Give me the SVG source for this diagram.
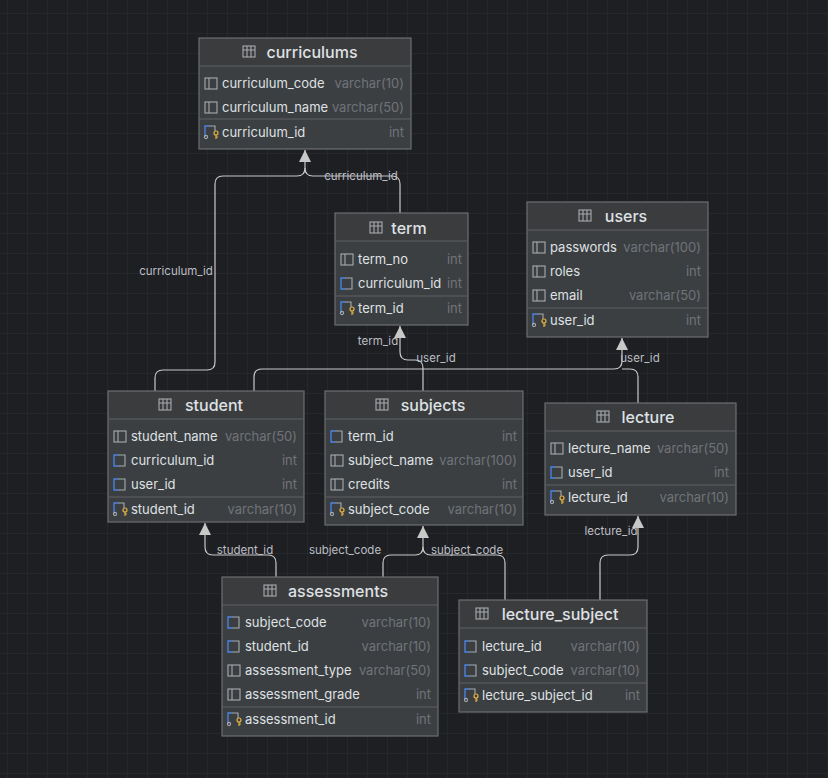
<svg xmlns="http://www.w3.org/2000/svg" width="828" height="778" viewBox="0 0 828 778">
<style>
.t{fill:#3c3f41;stroke:#6b6d70;stroke-width:1.2}
.h{fill:#3b3c3e}
.sep{stroke:#5e6064;stroke-width:1}
.title{font:500 16px Inter,"Noto Sans",sans-serif;fill:#dfe1e5;text-anchor:middle}
.c{font:13px Inter,"Noto Sans",sans-serif;fill:#dfe1e5}
.ty{font:13px Inter,"Noto Sans",sans-serif;fill:#6f737a;text-anchor:end}
.lb{font:11.5px Inter,"Noto Sans",sans-serif;fill:#bcbec4}
.ln{fill:none;stroke:#c8c8c8;stroke-width:1.2}
.ic{fill:none;stroke:#a8abb0;stroke-width:1.1}
.bk{fill:none;stroke:#4a86e8;stroke-width:1.3}
.ky{fill:none;stroke:#e3b341;stroke-width:1.2}
</style>
<defs>
<pattern id="g" width="20" height="20" patternUnits="userSpaceOnUse" x="8" y="14"><path d="M20 0V20H0" fill="none" stroke="#2c2e32" stroke-width="1"/></pattern>
<marker id="a" markerWidth="12" markerHeight="12" refX="6" refY="0" orient="0" markerUnits="userSpaceOnUse" viewBox="0 0 12 12" overflow="visible"><path d="M6 0L12 12H0Z" fill="#c8c8c8"/></marker>
<g id="tic"><rect x="0" y="0" width="12" height="11" class="ic"/><path d="M0 4H12M4 0V11M8 0V11" class="ic"/></g>
<g id="col"><rect x="0" y="0" width="12" height="11" class="ic"/><path d="M4 0V11" class="ic"/></g>
<g id="fk"><path d="M4 0H11V11H4" class="ic"/><path d="M4 0H0V11H4" class="bk"/></g>
<g id="pk"><path d="M4 0H0V11" class="bk"/><path d="M4 0H10V5" class="ic"/><circle cx="1" cy="11" r="1.6" class="ic"/><circle cx="11" cy="7" r="2" class="ky"/><path d="M11 9V13M11 11H13" class="ky"/></g>
</defs>
<rect width="828" height="778" fill="#1e1f22"/>
<rect width="828" height="778" fill="url(#g)"/>

<g id="connectors">
<path class="ln" marker-end="url(#a)" d="M155 391V378Q155 370 163 370H207Q215 370 215 362V184Q215 176 223 176H297Q305 176 305 168V150"/>
<path class="ln" d="M400 213V184Q400 176 392 176H313Q305 176 305 168"/>
<text class="lb" x="176" y="275" text-anchor="middle">curriculum_id</text>
<text class="lb" x="361" y="180" text-anchor="middle">curriculum_id</text>
<path class="ln" marker-end="url(#a)" d="M423 391V368Q423 360 415 360H408Q400 360 400 352V326"/>
<text class="lb" x="378" y="345" text-anchor="middle">term_id</text>
<text class="lb" x="436" y="362" text-anchor="middle">user_id</text>
<path class="ln" marker-end="url(#a)" d="M254 391V377Q254 369 262 369H614Q622 369 622 361V338"/>
<path class="ln" d="M638 403V377Q638 369 630 369H622"/>
<text class="lb" x="640" y="362" text-anchor="middle">user_id</text>
<path class="ln" marker-end="url(#a)" d="M276 577V563Q276 555 268 555H213Q205 555 205 547V523"/>
<text class="lb" x="245" y="554" text-anchor="middle">student_id</text>
<path class="ln" marker-end="url(#a)" d="M383 577V563Q383 555 391 555H415Q423 555 423 547V526"/>
<path class="ln" d="M505 600V563Q505 555 497 555H431Q423 555 423 547"/>
<text class="lb" x="345" y="554" text-anchor="middle">subject_code</text>
<text class="lb" x="467" y="554" text-anchor="middle">subject_code</text>
<path class="ln" marker-end="url(#a)" d="M600 600V563Q600 555 608 555H630Q638 555 638 547V516"/>
<text class="lb" x="611" y="535" text-anchor="middle">lecture_id</text>
</g>

<g id="curriculums">
<rect class="t" x="199" y="38" width="212" height="111"/><rect class="h" x="200" y="39" width="210" height="27"/><path class="sep" d="M199 66H411M199 119H411"/>
<use href="#tic" x="243" y="46"/><text class="title" x="312" y="58">curriculums</text>
<use href="#col" x="205" y="78"/><text class="c" x="222" y="88">curriculum_code</text><text class="ty" x="404" y="88">varchar(10)</text>
<use href="#col" x="205" y="102"/><text class="c" x="222" y="112">curriculum_name</text><text class="ty" x="404" y="112">varchar(50)</text>
<use href="#pk" x="205" y="126"/><text class="c" x="222" y="137">curriculum_id</text><text class="ty" x="404" y="137">int</text>
</g>

<g id="term">
<rect class="t" x="335" y="213" width="133" height="112"/><rect class="h" x="336" y="214" width="131" height="27"/><path class="sep" d="M335 241H468M335 296H468"/>
<use href="#tic" x="370" y="222"/><text class="title" x="409" y="234">term</text>
<use href="#col" x="341" y="254"/><text class="c" x="358" y="264">term_no</text><text class="ty" x="462" y="264">int</text>
<use href="#fk" x="341" y="278"/><text class="c" x="358" y="288">curriculum_id</text><text class="ty" x="462" y="288">int</text>
<use href="#pk" x="341" y="302"/><text class="c" x="358" y="313">term_id</text><text class="ty" x="462" y="313">int</text>
</g>

<g id="users">
<rect class="t" x="527" y="202" width="181" height="135"/><rect class="h" x="528" y="203" width="179" height="27"/><path class="sep" d="M527 230H708M527 308H708"/>
<use href="#tic" x="579" y="210"/><text class="title" x="626" y="222">users</text>
<use href="#col" x="533" y="242"/><text class="c" x="550" y="252">passwords</text><text class="ty" x="701" y="252">varchar(100)</text>
<use href="#col" x="533" y="266"/><text class="c" x="550" y="276">roles</text><text class="ty" x="701" y="276">int</text>
<use href="#col" x="533" y="290"/><text class="c" x="550" y="300">email</text><text class="ty" x="701" y="300">varchar(50)</text>
<use href="#pk" x="533" y="314"/><text class="c" x="550" y="325">user_id</text><text class="ty" x="701" y="325">int</text>
</g>

<g id="student">
<rect class="t" x="108" y="391" width="196" height="131"/><rect class="h" x="109" y="392" width="194" height="27"/><path class="sep" d="M108 419H304M108 497H304"/>
<use href="#tic" x="159" y="399"/><text class="title" x="214" y="411">student</text>
<use href="#col" x="114" y="431"/><text class="c" x="131" y="441">student_name</text><text class="ty" x="297" y="441">varchar(50)</text>
<use href="#fk" x="114" y="455"/><text class="c" x="131" y="465">curriculum_id</text><text class="ty" x="297" y="465">int</text>
<use href="#fk" x="114" y="479"/><text class="c" x="131" y="489">user_id</text><text class="ty" x="297" y="489">int</text>
<use href="#pk" x="114" y="503"/><text class="c" x="131" y="514">student_id</text><text class="ty" x="297" y="514">varchar(10)</text>
</g>

<g id="subjects">
<rect class="t" x="325" y="391" width="198" height="134"/><rect class="h" x="326" y="392" width="196" height="27"/><path class="sep" d="M325 419H523M325 497H523"/>
<use href="#tic" x="376" y="399"/><text class="title" x="433" y="411">subjects</text>
<use href="#fk" x="331" y="431"/><text class="c" x="348" y="441">term_id</text><text class="ty" x="517" y="441">int</text>
<use href="#col" x="331" y="455"/><text class="c" x="348" y="465">subject_name</text><text class="ty" x="517" y="465">varchar(100)</text>
<use href="#col" x="331" y="479"/><text class="c" x="348" y="489">credits</text><text class="ty" x="517" y="489">int</text>
<use href="#pk" x="331" y="503"/><text class="c" x="348" y="514">subject_code</text><text class="ty" x="517" y="514">varchar(10)</text>
</g>

<g id="lecture">
<rect class="t" x="545" y="403" width="191" height="112"/><rect class="h" x="546" y="404" width="189" height="27"/><path class="sep" d="M545 431H736M545 485H736"/>
<use href="#tic" x="597" y="411"/><text class="title" x="648" y="423">lecture</text>
<use href="#col" x="551" y="443"/><text class="c" x="568" y="453">lecture_name</text><text class="ty" x="729" y="453">varchar(50)</text>
<use href="#fk" x="551" y="467"/><text class="c" x="568" y="477">user_id</text><text class="ty" x="729" y="477">int</text>
<use href="#pk" x="551" y="491"/><text class="c" x="568" y="502">lecture_id</text><text class="ty" x="729" y="502">varchar(10)</text>
</g>

<g id="assessments">
<rect class="t" x="222" y="577" width="216" height="159"/><rect class="h" x="223" y="578" width="214" height="27"/><path class="sep" d="M222 605H438M222 707H438"/>
<use href="#tic" x="264" y="585"/><text class="title" x="338" y="597">assessments</text>
<use href="#fk" x="228" y="617"/><text class="c" x="245" y="627">subject_code</text><text class="ty" x="431" y="627">varchar(10)</text>
<use href="#fk" x="228" y="641"/><text class="c" x="245" y="651">student_id</text><text class="ty" x="431" y="651">varchar(10)</text>
<use href="#col" x="228" y="665"/><text class="c" x="245" y="675">assessment_type</text><text class="ty" x="431" y="675">varchar(50)</text>
<use href="#col" x="228" y="689"/><text class="c" x="245" y="699">assessment_grade</text><text class="ty" x="431" y="699">int</text>
<use href="#pk" x="228" y="713"/><text class="c" x="245" y="724">assessment_id</text><text class="ty" x="431" y="724">int</text>
</g>

<g id="lecture_subject">
<rect class="t" x="459" y="600" width="188" height="112"/><rect class="h" x="460" y="601" width="186" height="27"/><path class="sep" d="M459 628H647M459 683H647"/>
<use href="#tic" x="476" y="608"/><text class="title" x="560" y="620">lecture_subject</text>
<use href="#fk" x="465" y="641"/><text class="c" x="482" y="651">lecture_id</text><text class="ty" x="640" y="651">varchar(10)</text>
<use href="#fk" x="465" y="665"/><text class="c" x="482" y="675">subject_code</text><text class="ty" x="640" y="675">varchar(10)</text>
<use href="#pk" x="465" y="689"/><text class="c" x="482" y="700">lecture_subject_id</text><text class="ty" x="640" y="700">int</text>
</g>
</svg>
